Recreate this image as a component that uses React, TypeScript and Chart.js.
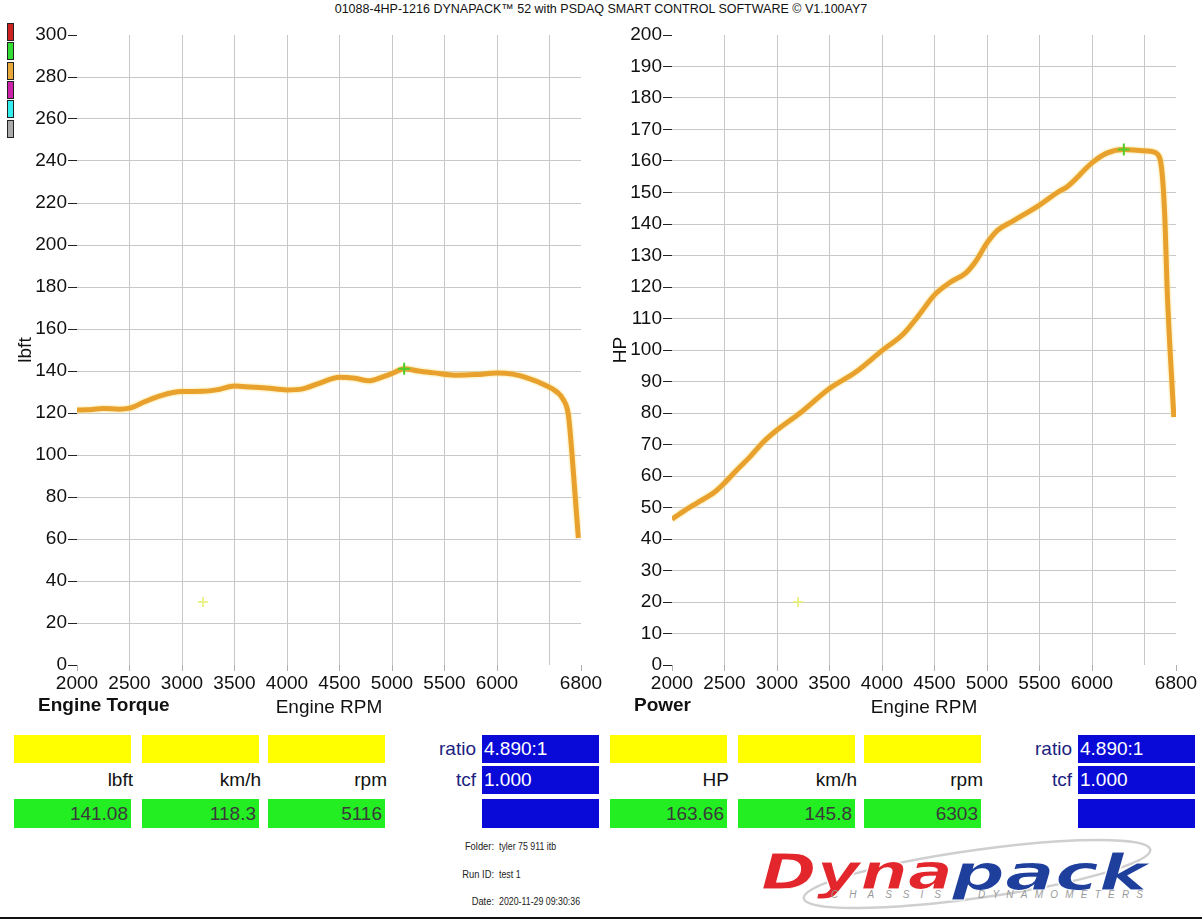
import React, { useEffect, useRef } from "react";
import { Chart, registerables } from "chart.js";
Chart.register(...registerables);

const FONT = '"Liberation Sans", Arial, Helvetica, sans-serif';

const pageTitle = "01088-4HP-1216 DYNAPACK\u2122 52 with PSDAQ SMART CONTROL SOFTWARE \u00a9 V1.100AY7";

const xTicks = [2000, 2500, 3000, 3500, 4000, 4500, 5000, 5500, 6000, 6500, 6800];
const xHiddenLabels = [6500];

const torqueRpm = [2000, 2100, 2250, 2400, 2500, 2650, 2800, 3000, 3200, 3350, 3500, 3650, 3800, 4000, 4150, 4300, 4500, 4650, 4780, 4900, 5000, 5116, 5250, 5400, 5600, 5800, 6000, 6150, 6300, 6450, 6570, 6630, 6680, 6715, 6745, 6775];
const torqueLbft = [121.4, 121.5, 122.2, 121.8, 122.3, 125.5, 128.3, 130.2, 130.3, 131.2, 132.8, 132.4, 131.9, 131.0, 131.5, 134.0, 137.0, 136.5, 135.3, 137.0, 138.8, 141.1, 140.0, 139.1, 138.0, 138.3, 139.0, 138.5, 136.5, 133.5, 130.0, 126.5, 119.0, 100.0, 80.0, 60.5];

const powerRpm = [2000, 2120, 2240, 2410, 2500, 2620, 2740, 2870, 3000, 3220, 3500, 3750, 4000, 4200, 4350, 4500, 4650, 4800, 4900, 5000, 5100, 5250, 5500, 5670, 5770, 6000, 6140, 6303, 6450, 6570, 6620, 6665, 6695, 6715, 6745, 6780];
const powerHp = [46.3, 49.0, 51.5, 55.0, 57.8, 62.0, 66.0, 70.8, 74.6, 80.0, 87.8, 93.0, 99.8, 105.0, 111.0, 117.5, 121.5, 124.5, 128.5, 134.0, 138.0, 141.0, 146.0, 150.0, 152.0, 159.4, 162.5, 163.66, 163.3, 163.0, 162.3, 157.0, 141.0, 120.0, 99.0, 78.7];

const torquePeak = [5116, 141.08];
const powerPeak = [6303, 163.66];
const torqueCursor = [3200, 30];
const powerCursor = [3200, 20];

const torqueReadouts = ["141.08", "118.3", "5116"];
const torqueUnits = ["lbft", "km/h", "rpm"];
const powerReadouts = ["163.66", "145.8", "6303"];
const powerUnits = ["HP", "km/h", "rpm"];
const ratioText = "4.890:1";
const tcfText = "1.000";

const footerLabels = ["Folder:", "Run ID:", "Date:"];
const footerValues = ["tyler 75 911 itb", "test 1", "2020-11-29 09:30:36"];

const statusColors = ["#cc2222", "#33dd33", "#e8a83a", "#cc22aa", "#33eeee", "#aaaaaa"];

function makeConfig(rpm: number[], vals: number[], yMax: number, yStep: number, yTitle: string, peak: number[], cursor: number[], padRight: number): any {
  const pts = rpm.map((r, i) => ({ x: r, y: vals[i] }));
  return {
    type: "line",
    data: {
      datasets: [
        {
          data: [{ x: peak[0], y: peak[1] }],
          showLine: false,
          pointStyle: "cross",
          pointRadius: 6,
          pointBorderWidth: 2,
          borderColor: "#4ccf2a",
          backgroundColor: "#4ccf2a",
          order: 0,
        },
        {
          data: [{ x: cursor[0], y: cursor[1] }],
          showLine: false,
          pointStyle: "cross",
          pointRadius: 5,
          pointBorderWidth: 2,
          borderColor: "rgba(230,238,110,0.8)",
          backgroundColor: "rgba(230,238,110,0.8)",
          order: 0,
        },
        {
          data: pts,
          borderColor: "#e9a12e",
          borderWidth: 5,
          pointRadius: 0,
          cubicInterpolationMode: "monotone",
          fill: false,
          order: 1,
        },
        {
          data: pts,
          borderColor: "rgba(250,225,130,0.35)",
          borderWidth: 8,
          pointRadius: 0,
          cubicInterpolationMode: "monotone",
          fill: false,
          order: 2,
        },
      ],
    },
    options: {
      responsive: false,
      animation: false,
      devicePixelRatio: 1,
      layout: { padding: { top: 35, right: padRight, bottom: 0, left: 0 } },
      plugins: { legend: { display: false }, tooltip: { enabled: false } },
      scales: {
        x: {
          type: "linear",
          min: 2000,
          max: 6800,
          afterBuildTicks: (s: any) => {
            s.ticks = xTicks.map((v) => ({ value: v }));
          },
          afterFit: (s: any) => {
            s.height = 55;
          },
          border: { display: false },
          grid: {
            color: (c: any) => (c.tick && (c.tick.value === 2000 || c.tick.value === 6800) ? "rgba(0,0,0,0)" : "#c8c8c8"),
            tickColor: (c: any) => (c.tick && xHiddenLabels.includes(c.tick.value) ? "rgba(0,0,0,0)" : "#b0b0b0"),
            tickLength: 6,
            lineWidth: 1,
          },
          ticks: {
            autoSkip: false,
            maxRotation: 0,
            padding: 1,
            color: "#111",
            font: { family: FONT, size: 19 },
            callback: (v: any) => (xHiddenLabels.includes(v) ? "" : String(v)),
          },
          title: {
            display: true,
            text: "Engine RPM",
            color: "#111",
            font: { family: FONT, size: 19 },
            padding: { top: 0, bottom: 1 },
          },
        },
        y: {
          min: 0,
          max: yMax,
          afterFit: (s: any) => {
            s.width = 77;
          },
          border: { display: false },
          grid: {
            color: (c: any) => (c.tick && (c.tick.value === 0 || c.tick.value === yMax) ? "rgba(0,0,0,0)" : "#c8c8c8"),
            tickColor: "#222",
            tickLength: 9,
            lineWidth: 1,
          },
          ticks: {
            stepSize: yStep,
            padding: 1,
            color: "#111",
            font: { family: FONT, size: 19 },
          },
          title: {
            display: true,
            text: yTitle,
            color: "#111",
            font: { family: FONT, size: 19 },
            padding: { top: 14, bottom: 0 },
          },
        },
      },
    },
  };
}

function DynoChart(props: { left: number; width: number; cfg: () => any }) {
  const ref = useRef<HTMLCanvasElement>(null);
  useEffect(() => {
    const chart = new Chart(ref.current as HTMLCanvasElement, props.cfg());
    return () => chart.destroy();
  }, []);
  return (
    <canvas
      ref={ref}
      width={props.width}
      height={720}
      style={{ position: "absolute", left: props.left, top: 0, width: props.width, height: 720 }}
    />
  );
}

const box = (left: number, top: number, w: number, h: number, bg: string): React.CSSProperties => ({
  position: "absolute",
  left,
  top,
  width: w,
  height: h,
  background: bg,
  boxSizing: "border-box",
});

function Panel(props: { x: number; heading: string; units: string[]; readouts: string[] }) {
  const { x } = props;
  const cols = [0, 128, 254];
  const txt: React.CSSProperties = { fontFamily: FONT, fontSize: 19, lineHeight: "29px" };
  return (
    <>
      <div style={{ position: "absolute", left: x + 24, top: 694, fontFamily: FONT, fontWeight: "bold", fontSize: 19, color: "#111" }}>{props.heading}</div>
      {cols.map((c, i) => (
        <div key={"y" + i} style={box(x + c, 735, 117, 28, "#ffff00")} />
      ))}
      {cols.map((c, i) => (
        <div key={"u" + i} style={{ ...txt, position: "absolute", left: x + c, top: 765, width: 119, textAlign: "right", color: "#111" }}>
          {props.units[i]}
        </div>
      ))}
      {cols.map((c, i) => (
        <div key={"g" + i} style={{ ...box(x + c, 799, 117, 29, "#22ee22"), ...txt, textAlign: "right", paddingRight: 3, color: "#3a3a3a" }}>
          {props.readouts[i]}
        </div>
      ))}
      <div style={{ ...txt, position: "absolute", left: x + 400, top: 734, width: 62, textAlign: "right", color: "#1c1f80" }}>ratio</div>
      <div style={{ ...txt, position: "absolute", left: x + 400, top: 765, width: 62, textAlign: "right", color: "#1c1f80" }}>tcf</div>
      <div style={{ ...box(x + 468, 735, 117, 28, "#0a0ad8"), ...txt, lineHeight: "28px", paddingLeft: 2, color: "#fff" }}>{ratioText}</div>
      <div style={{ ...box(x + 468, 766, 117, 28, "#0a0ad8"), ...txt, lineHeight: "28px", paddingLeft: 2, color: "#fff" }}>{tcfText}</div>
      <div style={box(x + 468, 799, 117, 29, "#0a0ad8")} />
    </>
  );
}

function Logo() {
  return (
    <svg width={420} height={85} style={{ position: "absolute", left: 745, top: 832 }} viewBox="0 0 420 85">
      <ellipse cx={232} cy={42} rx={175} ry={24} transform="rotate(-8 232 42)" fill="none" stroke="#cfcfcf" strokeWidth={2.5} />
      <text x={16} y={57} fill="#e2262b" stroke="#ffffff" strokeWidth={1} fontFamily='"DejaVu Sans", sans-serif' fontWeight="bold" fontStyle="italic" fontSize={50} textLength={192} lengthAdjust="spacingAndGlyphs">Dyna</text>
      <text x={207} y={58} fill="#1f3f9c" stroke="#ffffff" strokeWidth={1} fontFamily='"DejaVu Sans", sans-serif' fontWeight="bold" fontStyle="italic" fontSize={50} textLength={196} lengthAdjust="spacingAndGlyphs">pack</text>
      <text x={86} y={66} fill="#9a9a9a" fontFamily={FONT} fontStyle="italic" fontSize={10} textLength={110} lengthAdjust="spacing">CHASSIS</text>
      <text x={233} y={66} fill="#9a9a9a" fontFamily={FONT} fontStyle="italic" fontSize={10} textLength={165} lengthAdjust="spacing">DYNAMOMETERS</text>
    </svg>
  );
}

export default function App() {
  return (
    <div style={{ position: "fixed", left: 0, top: 0, width: 1202, height: 920, background: "#fff", overflow: "hidden" }}>
      <div style={{ position: "absolute", left: 0, top: 2, width: 1202, textAlign: "center", fontFamily: FONT, fontSize: 12.5, color: "#111" }}>{pageTitle}</div>
      {statusColors.map((c, i) => (
        <div key={i} style={{ ...box(7, 23 + i * 19.3, 7, 18, c), border: "1px solid #222" }} />
      ))}
      <DynoChart left={0} width={610} cfg={() => makeConfig(torqueRpm, torqueLbft, 300, 20, "lbft", torquePeak, torqueCursor, 29)} />
      <DynoChart left={595} width={607} cfg={() => makeConfig(powerRpm, powerHp, 200, 10, "HP", powerPeak, powerCursor, 26)} />
      <Panel x={14} heading="Engine Torque" units={torqueUnits} readouts={torqueReadouts} />
      <Panel x={610} heading="Power" units={powerUnits} readouts={powerReadouts} />
      {footerLabels.map((l, i) => (
        <div key={l} style={{ position: "absolute", left: 400, top: 840 + i * 27.5, width: 94, textAlign: "right", fontFamily: FONT, fontSize: 11, color: "#222", transform: "scaleX(0.85)", transformOrigin: "right" }}>{l}</div>
      ))}
      {footerValues.map((v, i) => (
        <div key={v} style={{ position: "absolute", left: 499, top: 840 + i * 27.5, whiteSpace: "nowrap", fontFamily: FONT, fontSize: 11, color: "#222", transform: "scaleX(0.8)", transformOrigin: "left" }}>{v}</div>
      ))}
      <Logo />
      <div style={box(0, 917, 1202, 2, "#111")} />
    </div>
  );
}
